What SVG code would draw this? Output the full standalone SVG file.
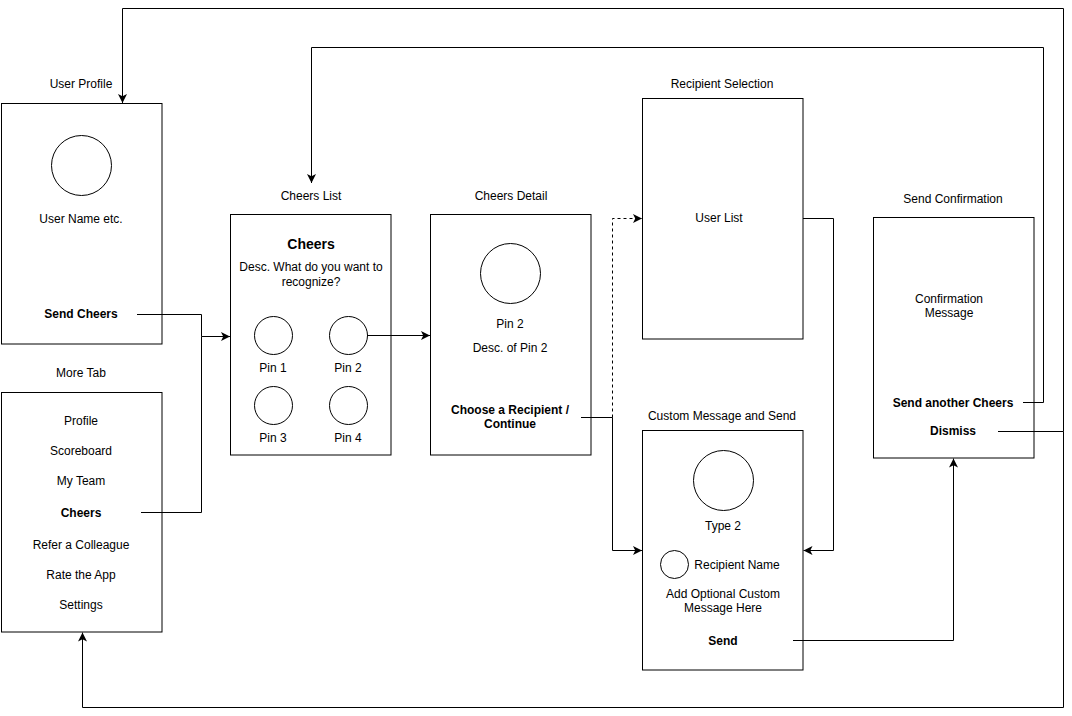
<svg xmlns="http://www.w3.org/2000/svg" width="1072" height="716" viewBox="0 0 1072 716">
<style>
text{font-family:"Liberation Sans",Arial,Helvetica,sans-serif;font-size:12px;fill:#000;text-anchor:middle}
.b{font-weight:bold}
.box{fill:#fff;stroke:#000;stroke-width:1}
.c{fill:#fff;stroke:#000;stroke-width:1}
.e{fill:none;stroke:#000;stroke-width:1}
.d{fill:none;stroke:#000;stroke-width:1;stroke-dasharray:3 3}
</style>
<defs>
<marker id="a" viewBox="0 0 10 10" refX="10" refY="5" markerWidth="9" markerHeight="9" markerUnits="userSpaceOnUse" orient="auto">
<path d="M0,0 L10,5 L0,10 L2.5,5 Z" fill="#000"/>
</marker>
</defs>
<rect width="1072" height="716" fill="#fff"/>
<g id="user-profile">
<text x="81" y="88">User Profile</text>
<rect class="box" x="1.5" y="103.5" width="160.5" height="240.5"/>
<circle class="c" cx="81.5" cy="165.5" r="30"/>
<text x="81" y="223">User Name etc.</text>
<text class="b" x="81" y="318">Send Cheers</text>
</g>
<g id="more-tab">
<text x="81" y="377">More Tab</text>
<rect class="box" x="1.5" y="392.5" width="160.5" height="239.5"/>
<text x="81" y="425">Profile</text>
<text x="81" y="455">Scoreboard</text>
<text x="81" y="485">My Team</text>
<text class="b" x="81" y="517">Cheers</text>
<text x="81" y="549">Refer a Colleague</text>
<text x="81" y="579">Rate the App</text>
<text x="81" y="609">Settings</text>
</g>
<g id="cheers-list">
<text x="311" y="200">Cheers List</text>
<rect class="box" x="230.5" y="214.5" width="160.5" height="240.5"/>
<text class="b" x="311" y="249" style="font-size:14px">Cheers</text>
<text x="311" y="271">Desc. What do you want to</text>
<text x="311" y="286">recognize?</text>
<circle class="c" cx="273.5" cy="335.5" r="19"/>
<circle class="c" cx="348.5" cy="335.5" r="19"/>
<circle class="c" cx="273.5" cy="405.5" r="19"/>
<circle class="c" cx="348.5" cy="405.5" r="19"/>
<text x="273" y="372">Pin 1</text>
<text x="348" y="372">Pin 2</text>
<text x="273" y="442">Pin 3</text>
<text x="348" y="442">Pin 4</text>
</g>
<g id="cheers-detail">
<text x="511" y="200">Cheers Detail</text>
<rect class="box" x="430.5" y="214.5" width="160.5" height="240.5"/>
<circle class="c" cx="510.5" cy="273.5" r="30"/>
<text x="510" y="328">Pin 2</text>
<text x="510" y="352">Desc. of Pin 2</text>
<text class="b" x="510" y="414">Choose a Recipient /</text>
<text class="b" x="510" y="428">Continue</text>
</g>
<g id="recipient-selection">
<text x="722" y="88">Recipient Selection</text>
<rect class="box" x="642.5" y="98.5" width="160.5" height="240.5"/>
<text x="719" y="222">User List</text>
</g>
<g id="custom-message">
<text x="722" y="420">Custom Message and Send</text>
<rect class="box" x="642.5" y="430.5" width="160.5" height="239.5"/>
<circle class="c" cx="723.5" cy="480.5" r="30"/>
<text x="723" y="530">Type 2</text>
<circle class="c" cx="674.5" cy="564.5" r="14"/>
<text x="737" y="569">Recipient Name</text>
<text x="723" y="598">Add Optional Custom</text>
<text x="723" y="612">Message Here</text>
<text class="b" x="723" y="645">Send</text>
</g>
<g id="send-confirmation">
<text x="953" y="203">Send Confirmation</text>
<rect class="box" x="873.5" y="217.5" width="160.5" height="240.5"/>
<text x="949" y="303">Confirmation</text>
<text x="949" y="317">Message</text>
<text class="b" x="953" y="407">Send another Cheers</text>
<text class="b" x="953" y="435">Dismiss</text>
</g>
<g id="connectors">
<path class="e" d="M137,314.5 H201.5 V336.5 H230" marker-end="url(#a)"/>
<path class="e" d="M141,512.5 H201.5 V336.5"/>
<path class="e" d="M367,335.5 H430" marker-end="url(#a)"/>
<path class="e" d="M581,417.5 H612.5"/>
<path class="d" d="M612.5,417.5 V218.5 H642" marker-end="url(#a)"/>
<path class="e" d="M612.5,417.5 V550.5 H642" marker-end="url(#a)"/>
<path class="e" d="M803,218.5 H833.5 V550.5 H803.5" marker-end="url(#a)"/>
<path class="e" d="M793,640.5 H953.5 V458.5" marker-end="url(#a)"/>
<path class="e" d="M1023,402.5 H1043.5 V47.5 H311.5 V183" marker-end="url(#a)"/>
<path class="e" d="M998,431.5 H1063.5 V8.5 H122.5 V103" marker-end="url(#a)"/>
<path class="e" d="M1063.5,431.5 V707.5 H82.5 V632.5" marker-end="url(#a)"/>
</g>
</svg>
